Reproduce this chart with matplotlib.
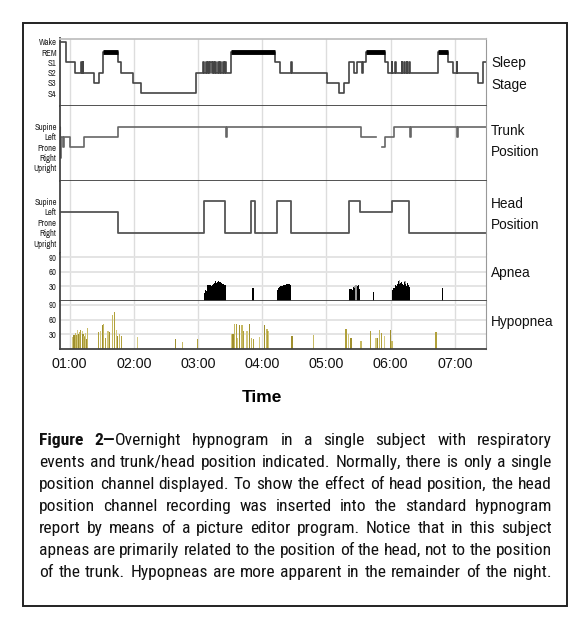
import numpy as np
import matplotlib
matplotlib.use('Agg')
import matplotlib.pyplot as plt
from matplotlib.patches import Rectangle

# ---- data (time in minutes after midnight) ----
t_start = 50.6
t_end = 449.0
hour_ticks = [60, 120, 180, 240, 300, 360, 420]
hour_labels = ['01:00', '02:00', '03:00', '04:00', '05:00', '06:00', '07:00']

stage_names = ['S4', 'S3', 'S2', 'S1', 'REM', 'Wake']   # 0..5
pos_names = ['Upright', 'Right', 'Prone', 'Left', 'Supine']  # 0..4

stage_t = [50.9, 56.3, 64.9, 71.0, 71.6, 72.2, 72.8, 83.0, 87.4, 91.1, 105.1, 107.6,
           119.7, 126.9, 178.5, 185.0, 186.0, 187.0, 188.0, 189.4, 190.4, 191.6, 192.6,
           193.8, 194.8, 196.0, 197.0, 198.2, 199.2, 200.6, 201.6, 203.0, 204.0, 205.4,
           206.4, 211.1, 252.2, 256.9, 267.2, 267.8, 300.5, 311.9, 316.6, 320.6, 325.3,
           328.4, 333.0, 334.5, 336.5, 354.8, 357.0, 361.0, 361.5, 364.0, 364.5, 370.5,
           371.0, 372.6, 373.1, 375.0, 375.5, 377.4, 377.9, 404.0, 413.9, 418.0, 421.7,
           422.2, 441.9, 446.0]
stage_v = [5, 3, 2, 3, 2, 3, 2, 1, 2, 4, 3, 2,
           1, 0, 2, 3, 2, 3, 2, 3, 2, 3, 2,
           3, 2, 3, 2, 3, 2, 3, 2, 3, 2, 3,
           2, 4, 3, 2, 3, 2, 1, 0, 1, 3, 2,
           3, 2, 3, 4, 3, 2, 3, 2, 3, 2, 3,
           2, 3, 2, 3, 2, 3, 2, 4, 3, 2, 3,
           2, 1, 3]

trunk_t = [50.9, 51.3, 51.7, 54.1, 54.6, 60.3, 73.3, 105.7, 206.2, 206.7, 332.2,
           346.5, 351.8, 354.8, 362.6, 378.2, 378.7, 422.3, 422.8]
trunk_v = [4, 1, 3, 2, 3, 2, 3, 4, 3, 4, 3,
           np.nan, 2, 3, 4, 3, 4, 3, 4]

head_t = [50.9, 105.4, 185.7, 205.6, 229.5, 232.9, 253.8, 266.9, 321.3, 331.6, 361.2, 377.5]
head_v = [3, 1, 4, 1, 4, 1, 4, 1, 4, 3, 4, 1]

apnea_t = [185.8, 186.6, 187.5, 188.6, 189.4, 190.3, 191.2, 192.0, 193.0, 193.9, 194.7,
           195.6, 196.5, 197.4, 198.3, 199.1, 200.0, 201.0, 201.8, 202.7, 203.6, 204.5,
           205.4, 231.4,
           254.5, 255.3, 256.1, 257.0, 257.8, 258.7, 259.5, 260.4, 261.2, 262.1, 262.9,
           263.8, 264.6, 265.5, 266.2,
           321.4, 322.4, 323.3, 324.0, 325.5, 326.4, 328.6, 329.6, 330.6, 344.0,
           362.1, 363.0, 363.9, 364.8, 365.7, 366.6, 367.5, 368.4, 369.3, 370.2, 371.1,
           372.0, 372.9, 373.8, 374.7, 375.6, 376.5, 377.3, 408.3]
apnea_s = [16, 22, 20, 32, 33, 31, 32, 30, 31, 34, 36,
           38, 41, 37, 40, 41, 39, 40, 38, 36, 35, 33,
           34, 26,
           22, 27, 29, 30, 31, 31, 32, 32, 33, 34, 35,
           35, 36, 35, 33,
           24, 24, 25, 22, 28, 27, 30, 33, 25, 18,
           22, 26, 27, 32, 30, 36, 42, 35, 38, 40, 36,
           34, 40, 35, 30, 38, 32, 28, 26]
apnea_gray_t = [325.9, 327.5, 367.9, 373.4, 376.0]
apnea_gray_s = [30, 33, 44, 42, 36]

hypo_t = [62.5, 63.3, 64.1, 65.6, 66.4, 67.2, 68.7, 69.5, 70.3, 71.9, 72.6, 73.4, 74.2,
          75.0, 75.8, 76.5,
          87.3, 88.9, 90.5, 92.0, 93.6, 95.8, 97.6, 99.8, 102.0, 103.6, 105.1, 106.7, 108.2,
          123.7, 158.9, 165.7, 179.2,
          211.2, 212.7, 214.3, 215.8, 217.1, 218.9, 221.1, 222.6, 225.8, 228.0, 229.8,
          232.0, 237.6, 242.2, 244.5, 245.4, 246.0,
          267.8, 288.0, 318.2, 320.6, 322.8, 332.2, 340.9, 346.2, 347.7, 349.5, 351.1,
          354.2, 359.5, 361.1, 402.2]
hypo_s = [22, 25, 29, 32, 28, 39, 30, 35, 39, 36, 30, 27, 24,
          32, 20, 42,
          34, 36, 49, 52, 22, 36, 34, 70, 76, 39, 26, 30, 26,
          25, 20, 14, 20,
          30, 30, 52, 52, 22, 49, 50, 37, 36, 52, 22,
          20, 25, 49, 40, 36, 36,
          26, 28, 40, 30, 22, 17, 36, 22, 22, 39, 33,
          27, 39, 17, 34]

panel_titles = [['Sleep', 'Stage'], ['Trunk', 'Position'], ['Head', 'Position'],
                ['Apnea'], ['Hypopnea']]

caption = [
    [[('Figure', 'bold')], [('2\u2014', 'bold'), ('Overnight', 'normal')], 'hypnogram', 'in', 'a',
     'single', 'subject', 'with', 'respiratory'],
    'events and trunk/head position indicated. Normally, there is only a single',
    'position channel displayed. To show the effect of head position, the head',
    'position channel recording was inserted into the standard hypnogram',
    'report by means of a picture editor program. Notice that in this subject',
    'apneas are primarily related to the position of the head, not to the position',
    'of the trunk. Hypopneas are more apparent in the remainder of the night.',
]

plt.rcParams['font.family'] = ['Liberation Sans', 'DejaVu Sans']
narrow = 'Archivo Narrow'
cap_font = 'Roboto Condensed'

W, H = 586, 620
fig = plt.figure(figsize=(W / 100, H / 100), dpi=100)


def fx(px):
    return px / W


def fy(py):
    return 1 - py / H


left, right = 59.5, 486
bounds = [(38.5, 106), (106, 180.5), (180.5, 253.5), (253.5, 301), (301, 349)]
axes = []
for top, bot in bounds:
    ax = fig.add_axes([fx(left), fy(bot), fx(right - left), (bot - top) / H])
    ax.set_xlim(t_start, t_end)
    ax.set_xticks(hour_ticks)
    ax.set_xticklabels([])
    ax.tick_params(length=0, pad=2, colors='#222222')
    ax.grid(axis='x', color='#dddddd', lw=1)
    ax.set_axisbelow(True)
    for s in ['left', 'bottom']:
        ax.spines[s].set_color('#444444')
        ax.spines[s].set_linewidth(1.3)
    ax.spines['right'].set_color('#999999')
    ax.spines['top'].set_visible(False)
    axes.append(ax)
axes[0].spines['top'].set_visible(True)
axes[0].spines['top'].set_color('#c0c0c0')
axes[0].spines['top'].set_linewidth(1.3)


def ylabels(ax, labels):
    ax.set_yticklabels(labels, family=narrow, fontsize=6.2, color='#222222')


# sleep stage
ax = axes[0]
ax.set_ylim(-1.23, 5.31)
ax.set_yticks(range(6))
ylabels(ax, stage_names)
ax.step(stage_t + [t_end], stage_v + [stage_v[-1]], where='post', color='#444444', lw=1.2)
for i, v in enumerate(stage_v):
    if v == 4:
        ax.hlines(4.05, stage_t[i], stage_t[i + 1], color='black', lw=3.5)

# trunk
ax = axes[1]
ax.set_ylim(-1.21, 6.0)
ax.set_yticks(range(5))
ylabels(ax, pos_names)
ax.step(trunk_t + [t_end], trunk_v + [trunk_v[-1]], where='post', color='#666666', lw=1.2)
ax.vlines(51.0, 1, 4, color='#333333', lw=1.5)

# head
ax = axes[2]
ax.set_ylim(-0.96, 5.94)
ax.set_yticks(range(5))
ylabels(ax, pos_names)
ax.step(head_t + [t_end], head_v + [head_v[-1]], where='post', color='#555555', lw=1.3)

# apnea
ax = axes[3]
ax.set_ylim(0, 98)
ax.set_yticks([30, 60, 90])
ylabels(ax, ['30', '60', '90'])
ax.grid(axis='y', color='#e2e2e2', lw=1.3)
ax.bar(apnea_gray_t, apnea_gray_s, width=1.1, color='#9a9a9a')
ax.bar(apnea_t, apnea_s, width=1.1, color='black')

# hypopnea
ax = axes[4]
ax.set_ylim(0, 98)
ax.set_yticks([30, 60, 90])
ylabels(ax, ['30', '60', '90'])
ax.grid(axis='y', color='#e2e2e2', lw=1.3)
shades = ['#b0a03a', '#d3c87e', '#9f8f2e', '#c6b961']
ax.bar(hypo_t, hypo_s, width=1.2, color=[shades[i % 4] for i in range(len(hypo_t))])
ax.set_xticklabels(hour_labels, fontsize=10.3, color='#111111')
ax.tick_params(axis='x', pad=6)

# panel names on the right
title_y = [[63, 85], [131, 152], [204, 225], [273], [322]]
for lines, ys in zip(panel_titles, title_y):
    for s, y in zip(lines, ys):
        fig.text(fx(491), fy(y), s, fontsize=9.8, va='center', ha='left', color='#111111')

fig.text(fx(262), fy(397), 'Time', fontsize=12.5, fontweight='bold', ha='center', va='center')

# outer frame
fig.patches.append(Rectangle((fx(22.7), fy(605.7)), fx(566.7 - 22.7), (605.7 - 23) / H,
                             transform=fig.transFigure, fill=False, ec='#222222', lw=1.4))

# caption, justified by hand
renderer = fig.canvas.get_renderer()


def width_of(s, size, weight):
    t = fig.text(0, 0, s, fontsize=size, fontweight=weight, family=cap_font)
    w = t.get_window_extent(renderer).width
    t.remove()
    return w


lines = []
for line in caption:
    if isinstance(line, str):
        words = [[(w, 'normal')] for w in line.split(' ')]
    else:
        words = [[(w, 'normal')] if isinstance(w, str) else w for w in line]
    lines.append(words)

cap_left, cap_right = 39, 552
target = cap_right - cap_left


def natural(words, size):
    ww = [sum(width_of(p, size, wt) for p, wt in w) for w in words]
    space = width_of('a a', size, 'normal') - 2 * width_of('a', size, 'normal')
    return sum(ww) + space * (len(words) - 1)


# last line of the caption runs the full width, so size the font from it
size = 11.0 * target / natural(lines[-1], 11.0)
widest = max(natural(w, size) for w in lines)
if widest > target:
    size = size * target / widest * 0.995

for k, words in enumerate(lines):
    ww = [sum(width_of(p, size, wt) for p, wt in w) for w in words]
    gap = (target - sum(ww)) / (len(words) - 1)
    x = cap_left
    y = 445.3 + 22 * k
    for w, wwid in zip(words, ww):
        xx = x
        for p, wt in w:
            fig.text(fx(xx), fy(y), p, fontsize=size, fontweight=wt, family=cap_font,
                     ha='left', va='baseline', color='#111111')
            xx += width_of(p, size, wt)
        x += wwid + gap

fig.savefig('out.png', dpi=100)
